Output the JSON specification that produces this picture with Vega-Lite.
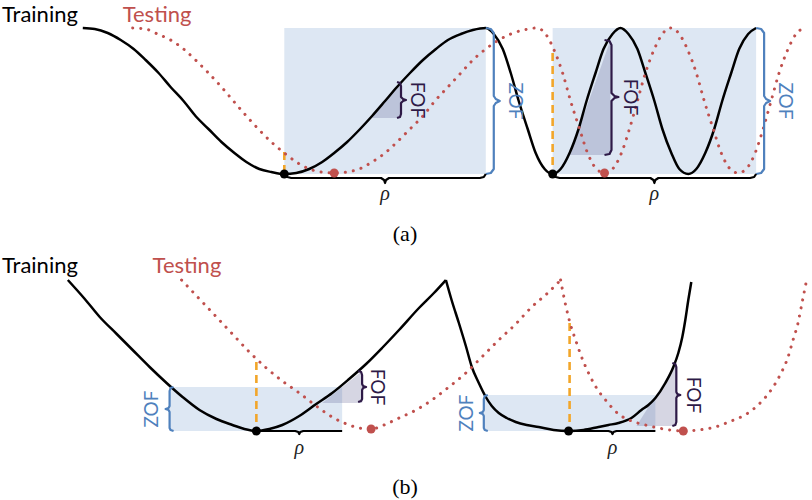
{
  "$schema": "https://vega.github.io/schema/vega-lite/v6.json",
  "autosize": {"type": "fit", "contains": "padding"},
  "width": 812,
  "height": 500,
  "padding": 0,
  "background": "white",
  "config": {"view": {"stroke": null}},
  "datasets": {
    "boxes": [
      {"x": 285, "x2": 487, "y": 28, "y2": 174},
      {"x": 554, "x2": 758, "y": 28, "y2": 174},
      {"x": 170, "x2": 343, "y": 387, "y2": 431},
      {"x": 485, "x2": 657, "y": 395, "y2": 431}
    ],
    "shade": [
      {"id": "a1", "x": 373, "y": 118, "y2": 118}, {"id": "a1", "x": 402, "y": 82, "y2": 118},
      {"id": "a2", "x": 571, "y": 155, "y2": 155}, {"id": "a2", "x": 612, "y": 40, "y2": 155},
      {"id": "b1", "x": 323, "y": 403, "y2": 403}, {"id": "b1", "x": 363, "y": 371, "y2": 403},
      {"id": "b2", "x": 638, "y": 426, "y2": 426}, {"id": "b2", "x": 678, "y": 363, "y2": 426}
    ],
    "minima": [
      {"x": 285, "top": 152, "y": 174},
      {"x": 554, "top": 53, "y": 174},
      {"x": 257, "top": 362, "y": 431},
      {"x": 571, "top": 323, "y": 431}
    ],
    "train": [
      {"s": "ta", "x": 83, "y": 28}, {"s": "ta", "x": 95, "y": 29}, {"s": "ta", "x": 108, "y": 33}, {"s": "ta", "x": 121, "y": 40},
      {"s": "ta", "x": 134, "y": 49}, {"s": "ta", "x": 146, "y": 60}, {"s": "ta", "x": 159, "y": 73}, {"s": "ta", "x": 171, "y": 87},
      {"s": "ta", "x": 184, "y": 101}, {"s": "ta", "x": 196, "y": 116}, {"s": "ta", "x": 209, "y": 129}, {"s": "ta", "x": 222, "y": 142},
      {"s": "ta", "x": 235, "y": 153}, {"s": "ta", "x": 247, "y": 162}, {"s": "ta", "x": 260, "y": 169}, {"s": "ta", "x": 272, "y": 172},
      {"s": "ta", "x": 285, "y": 174}, {"s": "ta", "x": 297, "y": 173}, {"s": "ta", "x": 310, "y": 169}, {"s": "ta", "x": 323, "y": 162},
      {"s": "ta", "x": 335, "y": 153}, {"s": "ta", "x": 348, "y": 142}, {"s": "ta", "x": 361, "y": 129}, {"s": "ta", "x": 373, "y": 116},
      {"s": "ta", "x": 386, "y": 101}, {"s": "ta", "x": 398, "y": 87}, {"s": "ta", "x": 411, "y": 73}, {"s": "ta", "x": 424, "y": 60},
      {"s": "ta", "x": 437, "y": 49}, {"s": "ta", "x": 449, "y": 40}, {"s": "ta", "x": 462, "y": 34}, {"s": "ta", "x": 474, "y": 30},
      {"s": "ta", "x": 487, "y": 28}, {"s": "ta", "x": 495, "y": 34}, {"s": "ta", "x": 504, "y": 49}, {"s": "ta", "x": 512, "y": 73},
      {"s": "ta", "x": 520, "y": 101}, {"s": "ta", "x": 529, "y": 129}, {"s": "ta", "x": 537, "y": 153}, {"s": "ta", "x": 546, "y": 169},
      {"s": "ta", "x": 554, "y": 174}, {"s": "ta", "x": 562, "y": 169}, {"s": "ta", "x": 571, "y": 153}, {"s": "ta", "x": 580, "y": 129},
      {"s": "ta", "x": 588, "y": 101}, {"s": "ta", "x": 597, "y": 73}, {"s": "ta", "x": 605, "y": 49}, {"s": "ta", "x": 614, "y": 34},
      {"s": "ta", "x": 622, "y": 28}, {"s": "ta", "x": 630, "y": 34}, {"s": "ta", "x": 639, "y": 49}, {"s": "ta", "x": 647, "y": 73},
      {"s": "ta", "x": 656, "y": 101}, {"s": "ta", "x": 664, "y": 129}, {"s": "ta", "x": 673, "y": 153}, {"s": "ta", "x": 681, "y": 169},
      {"s": "ta", "x": 690, "y": 174}, {"s": "ta", "x": 698, "y": 169}, {"s": "ta", "x": 707, "y": 153}, {"s": "ta", "x": 716, "y": 129},
      {"s": "ta", "x": 724, "y": 101}, {"s": "ta", "x": 733, "y": 73}, {"s": "ta", "x": 741, "y": 49}, {"s": "ta", "x": 750, "y": 34},
      {"s": "ta", "x": 758, "y": 28},
      {"s": "tb1", "x": 68, "y": 280}, {"s": "tb1", "x": 85, "y": 299}, {"s": "tb1", "x": 100, "y": 317}, {"s": "tb1", "x": 117, "y": 334},
      {"s": "tb1", "x": 133, "y": 350}, {"s": "tb1", "x": 150, "y": 367}, {"s": "tb1", "x": 167, "y": 383}, {"s": "tb1", "x": 183, "y": 397},
      {"s": "tb1", "x": 200, "y": 410}, {"s": "tb1", "x": 217, "y": 419}, {"s": "tb1", "x": 233, "y": 425}, {"s": "tb1", "x": 245, "y": 429},
      {"s": "tb1", "x": 257, "y": 431}, {"s": "tb1", "x": 270, "y": 429}, {"s": "tb1", "x": 283, "y": 425}, {"s": "tb1", "x": 300, "y": 416},
      {"s": "tb1", "x": 317, "y": 404}, {"s": "tb1", "x": 333, "y": 393}, {"s": "tb1", "x": 350, "y": 379}, {"s": "tb1", "x": 367, "y": 364},
      {"s": "tb1", "x": 383, "y": 348}, {"s": "tb1", "x": 400, "y": 330}, {"s": "tb1", "x": 420, "y": 308}, {"s": "tb1", "x": 435, "y": 293},
      {"s": "tb1", "x": 447, "y": 280},
      {"s": "tb2", "x": 447, "y": 280}, {"s": "tb2", "x": 453, "y": 301}, {"s": "tb2", "x": 460, "y": 323}, {"s": "tb2", "x": 467, "y": 346},
      {"s": "tb2", "x": 473, "y": 367}, {"s": "tb2", "x": 480, "y": 383}, {"s": "tb2", "x": 487, "y": 397}, {"s": "tb2", "x": 493, "y": 406},
      {"s": "tb2", "x": 500, "y": 413}, {"s": "tb2", "x": 508, "y": 418}, {"s": "tb2", "x": 517, "y": 422}, {"s": "tb2", "x": 528, "y": 425},
      {"s": "tb2", "x": 540, "y": 427}, {"s": "tb2", "x": 555, "y": 430}, {"s": "tb2", "x": 570, "y": 431}, {"s": "tb2", "x": 585, "y": 430},
      {"s": "tb2", "x": 600, "y": 427}, {"s": "tb2", "x": 610, "y": 425}, {"s": "tb2", "x": 620, "y": 423}, {"s": "tb2", "x": 633, "y": 418},
      {"s": "tb2", "x": 643, "y": 410}, {"s": "tb2", "x": 650, "y": 405}, {"s": "tb2", "x": 657, "y": 398}, {"s": "tb2", "x": 667, "y": 383},
      {"s": "tb2", "x": 675, "y": 367}, {"s": "tb2", "x": 680, "y": 353}, {"s": "tb2", "x": 684, "y": 337}, {"s": "tb2", "x": 687, "y": 320},
      {"s": "tb2", "x": 690, "y": 300}, {"s": "tb2", "x": 693, "y": 282}
    ],
    "test": [
      {"s": "sa", "x": 133, "y": 28}, {"s": "sa", "x": 146, "y": 29}, {"s": "sa", "x": 158, "y": 34}, {"s": "sa", "x": 171, "y": 40},
      {"s": "sa", "x": 184, "y": 49}, {"s": "sa", "x": 196, "y": 60}, {"s": "sa", "x": 209, "y": 73}, {"s": "sa", "x": 222, "y": 87},
      {"s": "sa", "x": 234, "y": 101}, {"s": "sa", "x": 247, "y": 116}, {"s": "sa", "x": 259, "y": 129}, {"s": "sa", "x": 272, "y": 142},
      {"s": "sa", "x": 285, "y": 153}, {"s": "sa", "x": 297, "y": 162}, {"s": "sa", "x": 310, "y": 169}, {"s": "sa", "x": 322, "y": 172},
      {"s": "sa", "x": 335, "y": 173}, {"s": "sa", "x": 348, "y": 172}, {"s": "sa", "x": 360, "y": 169}, {"s": "sa", "x": 373, "y": 162},
      {"s": "sa", "x": 386, "y": 153}, {"s": "sa", "x": 398, "y": 142}, {"s": "sa", "x": 411, "y": 129}, {"s": "sa", "x": 424, "y": 116},
      {"s": "sa", "x": 436, "y": 101}, {"s": "sa", "x": 449, "y": 87}, {"s": "sa", "x": 462, "y": 73}, {"s": "sa", "x": 474, "y": 60},
      {"s": "sa", "x": 487, "y": 49}, {"s": "sa", "x": 500, "y": 40}, {"s": "sa", "x": 512, "y": 34}, {"s": "sa", "x": 525, "y": 30},
      {"s": "sa", "x": 538, "y": 28}, {"s": "sa", "x": 547, "y": 34}, {"s": "sa", "x": 555, "y": 49}, {"s": "sa", "x": 564, "y": 73},
      {"s": "sa", "x": 572, "y": 101}, {"s": "sa", "x": 581, "y": 129}, {"s": "sa", "x": 589, "y": 153}, {"s": "sa", "x": 598, "y": 169},
      {"s": "sa", "x": 606, "y": 173}, {"s": "sa", "x": 614, "y": 169}, {"s": "sa", "x": 623, "y": 153}, {"s": "sa", "x": 631, "y": 129},
      {"s": "sa", "x": 639, "y": 101}, {"s": "sa", "x": 647, "y": 73}, {"s": "sa", "x": 656, "y": 49}, {"s": "sa", "x": 664, "y": 34},
      {"s": "sa", "x": 672, "y": 28}, {"s": "sa", "x": 681, "y": 34}, {"s": "sa", "x": 689, "y": 49}, {"s": "sa", "x": 698, "y": 73},
      {"s": "sa", "x": 706, "y": 101}, {"s": "sa", "x": 715, "y": 129}, {"s": "sa", "x": 723, "y": 153}, {"s": "sa", "x": 732, "y": 169},
      {"s": "sa", "x": 740, "y": 173}, {"s": "sa", "x": 748, "y": 169}, {"s": "sa", "x": 757, "y": 153}, {"s": "sa", "x": 765, "y": 129},
      {"s": "sa", "x": 773, "y": 101}, {"s": "sa", "x": 781, "y": 73}, {"s": "sa", "x": 790, "y": 49}, {"s": "sa", "x": 798, "y": 34},
      {"s": "sa", "x": 806, "y": 28},
      {"s": "sb1", "x": 182, "y": 280}, {"s": "sb1", "x": 200, "y": 299}, {"s": "sb1", "x": 217, "y": 317}, {"s": "sb1", "x": 233, "y": 334},
      {"s": "sb1", "x": 250, "y": 352}, {"s": "sb1", "x": 267, "y": 368}, {"s": "sb1", "x": 283, "y": 381}, {"s": "sb1", "x": 300, "y": 393},
      {"s": "sb1", "x": 317, "y": 406}, {"s": "sb1", "x": 333, "y": 417}, {"s": "sb1", "x": 350, "y": 425}, {"s": "sb1", "x": 360, "y": 428},
      {"s": "sb1", "x": 372, "y": 429}, {"s": "sb1", "x": 385, "y": 425}, {"s": "sb1", "x": 400, "y": 418}, {"s": "sb1", "x": 417, "y": 410},
      {"s": "sb1", "x": 433, "y": 400}, {"s": "sb1", "x": 450, "y": 387}, {"s": "sb1", "x": 467, "y": 373}, {"s": "sb1", "x": 483, "y": 357},
      {"s": "sb1", "x": 500, "y": 340}, {"s": "sb1", "x": 517, "y": 324}, {"s": "sb1", "x": 533, "y": 307}, {"s": "sb1", "x": 548, "y": 294},
      {"s": "sb1", "x": 562, "y": 280},
      {"s": "sb2", "x": 562, "y": 280}, {"s": "sb2", "x": 567, "y": 305}, {"s": "sb2", "x": 572, "y": 325}, {"s": "sb2", "x": 577, "y": 340},
      {"s": "sb2", "x": 583, "y": 357}, {"s": "sb2", "x": 590, "y": 373}, {"s": "sb2", "x": 598, "y": 388}, {"s": "sb2", "x": 607, "y": 400},
      {"s": "sb2", "x": 620, "y": 414}, {"s": "sb2", "x": 633, "y": 421}, {"s": "sb2", "x": 647, "y": 425}, {"s": "sb2", "x": 660, "y": 428},
      {"s": "sb2", "x": 672, "y": 430}, {"s": "sb2", "x": 685, "y": 431}, {"s": "sb2", "x": 700, "y": 430}, {"s": "sb2", "x": 717, "y": 427},
      {"s": "sb2", "x": 733, "y": 421}, {"s": "sb2", "x": 750, "y": 413}, {"s": "sb2", "x": 762, "y": 403}, {"s": "sb2", "x": 773, "y": 390},
      {"s": "sb2", "x": 782, "y": 375}, {"s": "sb2", "x": 790, "y": 357}, {"s": "sb2", "x": 795, "y": 340}, {"s": "sb2", "x": 800, "y": 323},
      {"s": "sb2", "x": 804, "y": 303}, {"s": "sb2", "x": 808, "y": 283}
    ],
    "braces": [
      {"id": "za1", "kind": "ZOF", "i": 1, "x": 487, "y": 28}, {"id": "za1", "kind": "ZOF", "i": 2, "x": 492, "y": 29},
      {"id": "za1", "kind": "ZOF", "i": 3, "x": 495, "y": 33}, {"id": "za1", "kind": "ZOF", "i": 4, "x": 495, "y": 96},
      {"id": "za1", "kind": "ZOF", "i": 5, "x": 497, "y": 99}, {"id": "za1", "kind": "ZOF", "i": 6, "x": 501, "y": 101},
      {"id": "za1", "kind": "ZOF", "i": 7, "x": 497, "y": 103}, {"id": "za1", "kind": "ZOF", "i": 8, "x": 495, "y": 106},
      {"id": "za1", "kind": "ZOF", "i": 9, "x": 495, "y": 169}, {"id": "za1", "kind": "ZOF", "i": 10, "x": 492, "y": 173},
      {"id": "za1", "kind": "ZOF", "i": 11, "x": 487, "y": 174},
      {"id": "za2", "kind": "ZOF", "i": 1, "x": 758, "y": 28}, {"id": "za2", "kind": "ZOF", "i": 2, "x": 763, "y": 29},
      {"id": "za2", "kind": "ZOF", "i": 3, "x": 766, "y": 33}, {"id": "za2", "kind": "ZOF", "i": 4, "x": 766, "y": 96},
      {"id": "za2", "kind": "ZOF", "i": 5, "x": 768, "y": 99}, {"id": "za2", "kind": "ZOF", "i": 6, "x": 772, "y": 101},
      {"id": "za2", "kind": "ZOF", "i": 7, "x": 768, "y": 103}, {"id": "za2", "kind": "ZOF", "i": 8, "x": 766, "y": 106},
      {"id": "za2", "kind": "ZOF", "i": 9, "x": 766, "y": 169}, {"id": "za2", "kind": "ZOF", "i": 10, "x": 763, "y": 173},
      {"id": "za2", "kind": "ZOF", "i": 11, "x": 758, "y": 174},
      {"id": "zb1", "kind": "ZOF", "i": 1, "x": 174, "y": 387}, {"id": "zb1", "kind": "ZOF", "i": 2, "x": 171, "y": 388},
      {"id": "zb1", "kind": "ZOF", "i": 3, "x": 170, "y": 391}, {"id": "zb1", "kind": "ZOF", "i": 4, "x": 170, "y": 406},
      {"id": "zb1", "kind": "ZOF", "i": 5, "x": 169, "y": 408}, {"id": "zb1", "kind": "ZOF", "i": 6, "x": 166, "y": 409},
      {"id": "zb1", "kind": "ZOF", "i": 7, "x": 169, "y": 410}, {"id": "zb1", "kind": "ZOF", "i": 8, "x": 170, "y": 412},
      {"id": "zb1", "kind": "ZOF", "i": 9, "x": 170, "y": 428}, {"id": "zb1", "kind": "ZOF", "i": 10, "x": 171, "y": 430},
      {"id": "zb1", "kind": "ZOF", "i": 11, "x": 174, "y": 431},
      {"id": "zb2", "kind": "ZOF", "i": 1, "x": 489, "y": 395}, {"id": "zb2", "kind": "ZOF", "i": 2, "x": 486, "y": 396},
      {"id": "zb2", "kind": "ZOF", "i": 3, "x": 485, "y": 399}, {"id": "zb2", "kind": "ZOF", "i": 4, "x": 485, "y": 410},
      {"id": "zb2", "kind": "ZOF", "i": 5, "x": 484, "y": 412}, {"id": "zb2", "kind": "ZOF", "i": 6, "x": 481, "y": 413},
      {"id": "zb2", "kind": "ZOF", "i": 7, "x": 484, "y": 414}, {"id": "zb2", "kind": "ZOF", "i": 8, "x": 485, "y": 416},
      {"id": "zb2", "kind": "ZOF", "i": 9, "x": 485, "y": 428}, {"id": "zb2", "kind": "ZOF", "i": 10, "x": 486, "y": 430},
      {"id": "zb2", "kind": "ZOF", "i": 11, "x": 489, "y": 431},
      {"id": "fa1", "kind": "FOF", "i": 1, "x": 398, "y": 82}, {"id": "fa1", "kind": "FOF", "i": 2, "x": 401, "y": 83},
      {"id": "fa1", "kind": "FOF", "i": 3, "x": 402, "y": 86}, {"id": "fa1", "kind": "FOF", "i": 4, "x": 402, "y": 97},
      {"id": "fa1", "kind": "FOF", "i": 5, "x": 404, "y": 99}, {"id": "fa1", "kind": "FOF", "i": 6, "x": 407, "y": 100},
      {"id": "fa1", "kind": "FOF", "i": 7, "x": 404, "y": 101}, {"id": "fa1", "kind": "FOF", "i": 8, "x": 402, "y": 103},
      {"id": "fa1", "kind": "FOF", "i": 9, "x": 402, "y": 114}, {"id": "fa1", "kind": "FOF", "i": 10, "x": 401, "y": 117},
      {"id": "fa1", "kind": "FOF", "i": 11, "x": 398, "y": 118},
      {"id": "fa2", "kind": "FOF", "i": 1, "x": 606, "y": 40}, {"id": "fa2", "kind": "FOF", "i": 2, "x": 611, "y": 41},
      {"id": "fa2", "kind": "FOF", "i": 3, "x": 613, "y": 45}, {"id": "fa2", "kind": "FOF", "i": 4, "x": 613, "y": 93},
      {"id": "fa2", "kind": "FOF", "i": 5, "x": 616, "y": 96}, {"id": "fa2", "kind": "FOF", "i": 6, "x": 620, "y": 97},
      {"id": "fa2", "kind": "FOF", "i": 7, "x": 616, "y": 98}, {"id": "fa2", "kind": "FOF", "i": 8, "x": 613, "y": 101},
      {"id": "fa2", "kind": "FOF", "i": 9, "x": 613, "y": 150}, {"id": "fa2", "kind": "FOF", "i": 10, "x": 611, "y": 154},
      {"id": "fa2", "kind": "FOF", "i": 11, "x": 606, "y": 155},
      {"id": "fb1", "kind": "FOF", "i": 1, "x": 359, "y": 371}, {"id": "fb1", "kind": "FOF", "i": 2, "x": 362, "y": 372},
      {"id": "fb1", "kind": "FOF", "i": 3, "x": 363, "y": 375}, {"id": "fb1", "kind": "FOF", "i": 4, "x": 363, "y": 384},
      {"id": "fb1", "kind": "FOF", "i": 5, "x": 364, "y": 386}, {"id": "fb1", "kind": "FOF", "i": 6, "x": 367, "y": 387},
      {"id": "fb1", "kind": "FOF", "i": 7, "x": 364, "y": 388}, {"id": "fb1", "kind": "FOF", "i": 8, "x": 363, "y": 390},
      {"id": "fb1", "kind": "FOF", "i": 9, "x": 363, "y": 399}, {"id": "fb1", "kind": "FOF", "i": 10, "x": 362, "y": 401},
      {"id": "fb1", "kind": "FOF", "i": 11, "x": 359, "y": 402},
      {"id": "fb2", "kind": "FOF", "i": 1, "x": 674, "y": 363}, {"id": "fb2", "kind": "FOF", "i": 2, "x": 677, "y": 364},
      {"id": "fb2", "kind": "FOF", "i": 3, "x": 678, "y": 367}, {"id": "fb2", "kind": "FOF", "i": 4, "x": 678, "y": 392},
      {"id": "fb2", "kind": "FOF", "i": 5, "x": 679, "y": 394}, {"id": "fb2", "kind": "FOF", "i": 6, "x": 682, "y": 395},
      {"id": "fb2", "kind": "FOF", "i": 7, "x": 679, "y": 396}, {"id": "fb2", "kind": "FOF", "i": 8, "x": 678, "y": 398},
      {"id": "fb2", "kind": "FOF", "i": 9, "x": 678, "y": 422}, {"id": "fb2", "kind": "FOF", "i": 10, "x": 677, "y": 425},
      {"id": "fb2", "kind": "FOF", "i": 11, "x": 674, "y": 426},
      {"id": "ra1", "kind": "rho", "i": 1, "x": 285, "y": 174}, {"id": "ra1", "kind": "rho", "i": 2, "x": 288, "y": 177},
      {"id": "ra1", "kind": "rho", "i": 3, "x": 292, "y": 178}, {"id": "ra1", "kind": "rho", "i": 4, "x": 382, "y": 178},
      {"id": "ra1", "kind": "rho", "i": 5, "x": 385, "y": 180}, {"id": "ra1", "kind": "rho", "i": 6, "x": 386, "y": 183},
      {"id": "ra1", "kind": "rho", "i": 7, "x": 387, "y": 180}, {"id": "ra1", "kind": "rho", "i": 8, "x": 390, "y": 178},
      {"id": "ra1", "kind": "rho", "i": 9, "x": 481, "y": 178}, {"id": "ra1", "kind": "rho", "i": 10, "x": 485, "y": 177},
      {"id": "ra1", "kind": "rho", "i": 11, "x": 487, "y": 174},
      {"id": "ra2", "kind": "rho", "i": 1, "x": 554, "y": 174}, {"id": "ra2", "kind": "rho", "i": 2, "x": 557, "y": 177},
      {"id": "ra2", "kind": "rho", "i": 3, "x": 561, "y": 178}, {"id": "ra2", "kind": "rho", "i": 4, "x": 652, "y": 178},
      {"id": "ra2", "kind": "rho", "i": 5, "x": 655, "y": 180}, {"id": "ra2", "kind": "rho", "i": 6, "x": 656, "y": 183},
      {"id": "ra2", "kind": "rho", "i": 7, "x": 657, "y": 180}, {"id": "ra2", "kind": "rho", "i": 8, "x": 660, "y": 178},
      {"id": "ra2", "kind": "rho", "i": 9, "x": 752, "y": 178}, {"id": "ra2", "kind": "rho", "i": 10, "x": 756, "y": 177},
      {"id": "ra2", "kind": "rho", "i": 11, "x": 758, "y": 174},
      {"id": "rb1", "kind": "rho", "i": 1, "x": 257, "y": 431}, {"id": "rb1", "kind": "rho", "i": 2, "x": 296, "y": 431},
      {"id": "rb1", "kind": "rho", "i": 3, "x": 299, "y": 432}, {"id": "rb1", "kind": "rho", "i": 4, "x": 300, "y": 434},
      {"id": "rb1", "kind": "rho", "i": 5, "x": 301, "y": 432}, {"id": "rb1", "kind": "rho", "i": 6, "x": 304, "y": 431},
      {"id": "rb1", "kind": "rho", "i": 7, "x": 343, "y": 431},
      {"id": "rb2", "kind": "rho", "i": 1, "x": 571, "y": 431}, {"id": "rb2", "kind": "rho", "i": 2, "x": 610, "y": 431},
      {"id": "rb2", "kind": "rho", "i": 3, "x": 613, "y": 432}, {"id": "rb2", "kind": "rho", "i": 4, "x": 614, "y": 434},
      {"id": "rb2", "kind": "rho", "i": 5, "x": 615, "y": 432}, {"id": "rb2", "kind": "rho", "i": 6, "x": 618, "y": 431},
      {"id": "rb2", "kind": "rho", "i": 7, "x": 657, "y": 431}
    ],
    "dots": [
      {"kind": "Training", "x": 285, "y": 174},
      {"kind": "Training", "x": 554, "y": 174},
      {"kind": "Training", "x": 257, "y": 431},
      {"kind": "Training", "x": 570, "y": 431},
      {"kind": "Testing", "x": 335, "y": 173},
      {"kind": "Testing", "x": 606, "y": 173},
      {"kind": "Testing", "x": 372, "y": 429},
      {"kind": "Testing", "x": 685, "y": 431}
    ],
    "names": [
      {"kind": "Training", "label": "Training", "x": 2, "y": 22},
      {"kind": "Testing", "label": "Testing", "x": 123, "y": 22},
      {"kind": "Training", "label": "Training", "x": 2, "y": 273},
      {"kind": "Testing", "label": "Testing", "x": 153, "y": 273}
    ],
    "downLabels": [
      {"kind": "ZOF", "label": "ZOF", "x": 516, "y": 101},
      {"kind": "ZOF", "label": "ZOF", "x": 787, "y": 101},
      {"kind": "FOF", "label": "FOF", "x": 418, "y": 100},
      {"kind": "FOF", "label": "FOF", "x": 632, "y": 97},
      {"kind": "FOF", "label": "FOF", "x": 378, "y": 387},
      {"kind": "FOF", "label": "FOF", "x": 695, "y": 395}
    ],
    "upLabels": [
      {"kind": "ZOF", "label": "ZOF", "x": 152, "y": 409},
      {"kind": "ZOF", "label": "ZOF", "x": 468, "y": 413}
    ],
    "rhoLabels": [
      {"label": "ρ", "x": 386, "y": 194},
      {"label": "ρ", "x": 656, "y": 194},
      {"label": "ρ", "x": 300, "y": 448},
      {"label": "ρ", "x": 614, "y": 448}
    ],
    "captions": [
      {"label": "(a)", "x": 406, "y": 234},
      {"label": "(b)", "x": 406, "y": 487}
    ]
  },
  "encoding": {
    "x": {"field": "x", "type": "quantitative", "axis": null, "scale": {"domain": [0, 812], "nice": false, "zero": false}},
    "y": {"field": "y", "type": "quantitative", "axis": null, "scale": {"domain": [0, 500], "nice": false, "zero": false, "reverse": true}}
  },
  "layer": [
    {
      "data": {"name": "boxes"},
      "mark": {"type": "rect", "color": "#dde7f3"},
      "encoding": {"x2": {"field": "x2"}, "y2": {"field": "y2"}}
    },
    {
      "data": {"name": "shade"},
      "mark": {"type": "area", "color": "#5d5d8f", "opacity": 0.25},
      "encoding": {"y2": {"field": "y2"}, "detail": {"field": "id"}}
    },
    {
      "data": {"name": "minima"},
      "mark": {"type": "rule", "color": "#f2a62a", "strokeWidth": 2.6, "strokeDash": [8, 5]},
      "encoding": {"y": {"field": "top", "type": "quantitative"}, "y2": {"field": "y"}}
    },
    {
      "data": {"name": "train"},
      "mark": {"type": "line", "color": "black", "strokeWidth": 2.5, "interpolate": "monotone"},
      "encoding": {"detail": {"field": "s"}}
    },
    {
      "data": {"name": "test"},
      "mark": {"type": "line", "color": "#c0504d", "strokeWidth": 3, "strokeCap": "round", "strokeDash": [0.1, 8], "interpolate": "monotone"},
      "encoding": {"detail": {"field": "s"}}
    },
    {
      "data": {"name": "braces"},
      "mark": {"type": "line", "strokeWidth": 2.2, "strokeJoin": "round"},
      "encoding": {
        "detail": {"field": "id"},
        "order": {"field": "i", "type": "quantitative"},
        "color": {"field": "kind", "type": "nominal", "legend": null,
          "scale": {"domain": ["Training", "Testing", "ZOF", "FOF", "rho"], "range": ["#000000", "#c0504d", "#4f81bd", "#2e1a47", "#000000"]}}
      }
    },
    {
      "data": {"name": "dots"},
      "mark": {"type": "circle", "opacity": 1, "size": 80},
      "encoding": {"color": {"field": "kind", "type": "nominal", "legend": null}}
    },
    {
      "data": {"name": "names"},
      "mark": {"type": "text", "font": "Lato", "fontSize": 22, "align": "left", "baseline": "alphabetic"},
      "encoding": {"text": {"field": "label"}, "color": {"field": "kind", "type": "nominal", "legend": null}}
    },
    {
      "data": {"name": "downLabels"},
      "mark": {"type": "text", "font": "Lato", "fontSize": 19, "angle": 90, "align": "center", "baseline": "middle"},
      "encoding": {"text": {"field": "label"}, "color": {"field": "kind", "type": "nominal", "legend": null}}
    },
    {
      "data": {"name": "upLabels"},
      "mark": {"type": "text", "font": "Lato", "fontSize": 19, "angle": 270, "align": "center", "baseline": "middle"},
      "encoding": {"text": {"field": "label"}, "color": {"field": "kind", "type": "nominal", "legend": null}}
    },
    {
      "data": {"name": "rhoLabels"},
      "mark": {"type": "text", "font": "Liberation Serif", "fontSize": 20, "fontStyle": "italic", "color": "#222", "align": "center", "baseline": "middle"},
      "encoding": {"text": {"field": "label"}}
    },
    {
      "data": {"name": "captions"},
      "mark": {"type": "text", "font": "Liberation Serif", "fontSize": 22, "color": "black", "align": "center", "baseline": "middle"},
      "encoding": {"text": {"field": "label"}}
    }
  ]
}
